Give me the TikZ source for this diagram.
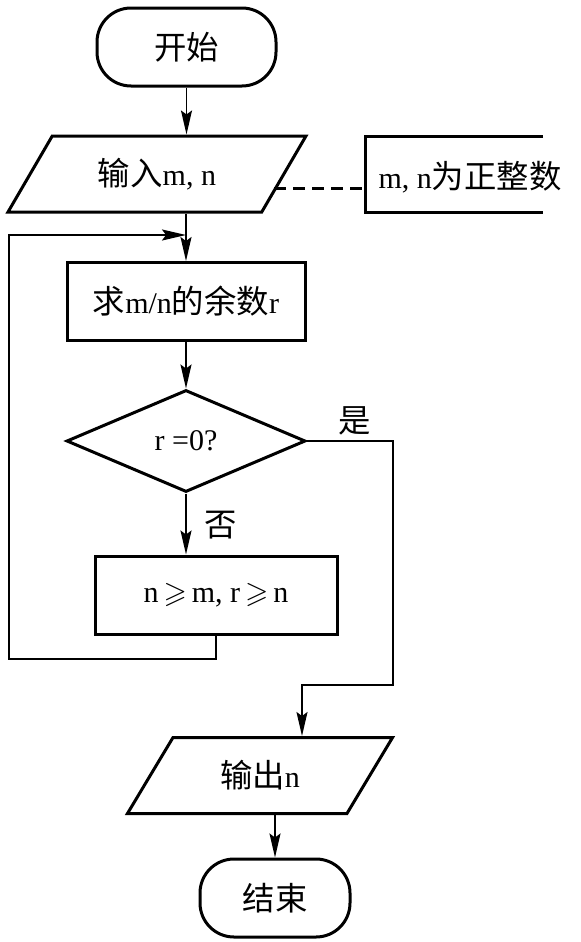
\documentclass[tikz,border=0pt]{standalone}
\usepackage{amsmath,amssymb}
\usepackage{fontspec}
\setmainfont{Liberation Serif}
\newfontfamily\cjk[Scale=1.08]{Noto Sans CJK SC}
\usetikzlibrary{shapes.geometric, arrows.meta, calc}

\begin{document}
\begin{tikzpicture}[x=0.5pt, y=-0.5pt,
    font=\fontsize{15}{18}\selectfont,
    shape line/.style={draw, line width=1.5pt, inner sep=0pt},
    term/.style={shape line, rectangle, rounded corners=17pt, minimum width=89.5pt, minimum height=39pt},
    io/.style={shape line, trapezium, trapezium stretches=true, minimum height=38pt},
    proc/.style={shape line, rectangle, minimum height=39pt},
    decide/.style={shape line, diamond, minimum width=119.5pt, minimum height=51pt},
    flow/.style={line width=0.85pt, -{Stealth[length=12pt, width=5.5pt, inset=2pt]}}]
  \useasboundingbox (0,0) rectangle (580,942);

  % Start and input
  \node[term] (start) at (186.5,47) {{\cjk 开始}};
  \node[io, trapezium left angle=52, trapezium right angle=128, minimum width=149pt] (input) at (157,174) {{\cjk 输入}m, n};

  % Note on the input
  \coordinate (notetop) at (543,136);
  \coordinate (notebot) at (543,212);
  \coordinate (noteleft) at (365,188);
  \coordinate (dashstart) at (274,188);
  \node (note) at (470,177) {m, n{\cjk 为正整数}};
  \draw[line width=1.5pt] (notetop) -| (noteleft) |- (notebot);
  \draw[line width=1.5pt, dash pattern=on 6pt off 3.5pt] (dashstart) -- (noteleft);

  % Loop body
  \node[proc, minimum width=119pt] (rem) at (186,301.5) {{\cjk 求}m/n{\cjk 的余数}r};
  \node[decide] (test) at (186,441) {r =0?};
  \node[proc, minimum width=121pt] (swap) at (216,595) {n\,$\geqslant$\,m, r\,$\geqslant$\,n};

  % Output and end
  \node[io, trapezium left angle=55, trapezium right angle=125, minimum width=133pt] (output) at (260,775.5) {{\cjk 输出}n};
  \node[term, minimum width=75pt] (stop) at (275,898) {{\cjk 结束}};

  % Labels
  \node (yes) at (355,421) {{\cjk 是}};
  \node (no) at (221,525) {{\cjk 否}};

  % Helper points
  \coordinate (join) at (186,235);
  \coordinate (backtop) at (9,235);
  \coordinate (backbot) at (9,659);
  \coordinate (yesright) at (393,685);
  \coordinate (yesleft) at (302,685);

  % Arrows
  \draw[flow] (start.south) -- (start.south |- input.north);
  \draw[flow] (rem.north |- input.south) -- (rem.north);
  \draw[flow] (rem) -- (test);
  \draw[flow] (test.south) -- (test.south |- swap.north);
  \draw[flow] (swap.south) |- (backbot) -- (backtop) -- (join);
  \draw[flow] (test.east) -| (yesright) -- (yesleft) -- (yesleft |- output.north);
  \draw[flow] (stop.north |- output.south) -- (stop.north);
\end{tikzpicture}
\end{document}
